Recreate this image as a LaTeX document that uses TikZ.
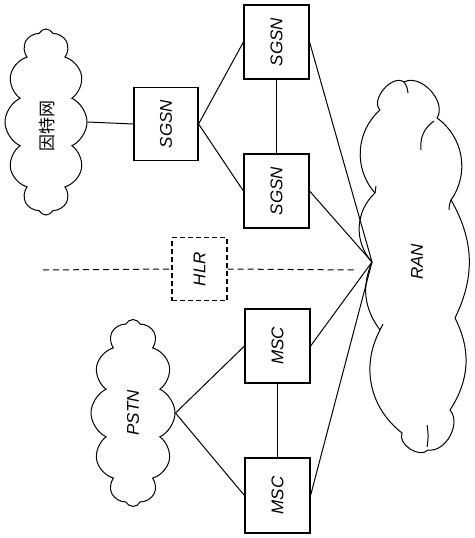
\documentclass[tikz,border=0pt]{standalone}
\usepackage{fontspec}
\setmainfont{Liberation Sans}
\newfontfamily\cjkfont{Noto Sans CJK SC}
\usetikzlibrary{shapes.symbols}
\tikzset{
  box/.style={draw, line width=1.1pt, minimum width=65pt, minimum height=74pt, inner sep=0pt},
  dbox/.style={box, dashed, dash pattern=on 5pt off 3pt, minimum width=55pt, minimum height=63pt},
  cloudy/.style={draw, cloud, cloud ignores aspect, line width=1pt, inner sep=0pt},
  cloudline/.style={line width=1pt, line join=round},
  lbl/.style={rotate=90, font=\fontsize{17}{20}\selectfont\itshape},
  conn/.style={line width=1pt},
  dconn/.style={line width=1pt, dash pattern=on 6pt off 4pt},
}
\begin{document}
\begin{tikzpicture}[x=1pt,y=-1pt]
\useasboundingbox (0,0) rectangle (474,538);
% clouds
\node[cloudy, cloud puffs=12, cloud puff arc=130, minimum width=82pt, minimum height=186pt] (inet) at (46,122) {};
\node[lbl, font=\fontsize{17}{20}\selectfont\cjkfont] (inetl) at (47,126) {因特网};
\node[cloudy, cloud puffs=12, cloud puff arc=130, minimum width=84pt, minimum height=187pt] (pstn) at (133,413) {};
\node[lbl] (pstnl) at (133,413) {PSTN};
% RAN cloud, drawn directly
\coordinate (ranp) at (372,262);
\draw[cloudline] (ranp)
  to[bend left=45] (375,193)
  to[bend left=45] (380,110)
  to[bend left=85] (404,82)
  to[bend left=75] (437,118)
  to[bend left=45] (451,200)
  to[bend left=28] (455,318)
  to[bend left=30] (450,410)
  to[bend left=70] (428,450)
  to[bend left=80] (402,433)
  to[bend left=40] (380,330)
  to[bend left=30] (ranp);
\draw[cloudline] (404,82) to[bend left=15] (408,93);
\draw[cloudline] (421,150) to[bend left=30] (434,121);
\draw[cloudline] (451,200) to[bend right=10] (449,210);
\draw[cloudline] (427,447) to[bend right=10] (427,425);
\draw[cloudline] (380,330) to[bend left=10] (383,324);
\draw[cloudline] (375,193) to[bend right=10] (376,186);
\node[lbl] (ranl) at (417,262) {RAN};
% boxes
\node[box, minimum width=64pt, minimum height=73pt] (sgsn1) at (166,124) {};
\node[lbl] at (sgsn1) {SGSN};
\node[box] (sgsn2) at (276.5,42) {};
\node[lbl] at (sgsn2) {SGSN};
\node[box] (sgsn3) at (276.5,191) {};
\node[lbl] at (sgsn3) {SGSN};
\node[dbox] (hlr) at (199.5,269) {};
\node[lbl] at (hlr) {HLR};
\node[box] (msc1) at (277.5,346) {};
\node[lbl] at (msc1) {MSC};
\node[box, minimum height=75pt] (msc2) at (277.5,495.5) {};
\node[lbl] at (msc2) {MSC};
% connectors
\coordinate (dl) at (43,270);
\coordinate (dr) at (355,270);
\draw[conn] (inet.east) -- (sgsn1.west);
\draw[conn] (sgsn1.east) -- (sgsn2.west);
\draw[conn] (sgsn1.east) -- (sgsn3.west);
\draw[conn] (sgsn2.south) -- (sgsn3.north);
\draw[conn] (sgsn2.east) -- (ranp);
\draw[conn] (sgsn3.east) -- (ranp);
\draw[conn] (msc1.east) -- (ranp);
\draw[conn] (msc2.east) -- (ranp);
\draw[conn] (pstn.east) -- (msc1.west);
\draw[conn] (pstn.east) -- (msc2.west);
\draw[conn] (msc1.south) -- (msc2.north);
\draw[dconn] (dl) -- (hlr.west);
\draw[dconn] (hlr.east) -- (dr);
\end{tikzpicture}
\end{document}
